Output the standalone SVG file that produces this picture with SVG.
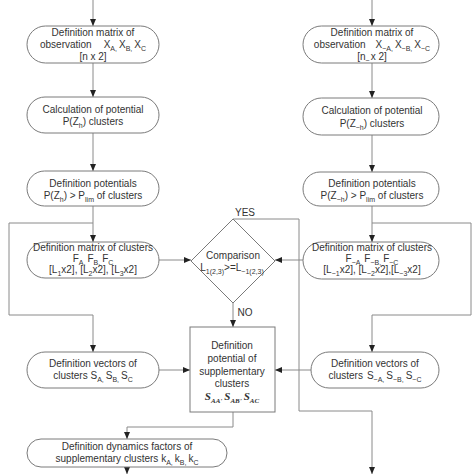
<svg xmlns="http://www.w3.org/2000/svg" width="474" height="474" viewBox="0 0 474 474">
<style>
.bg{fill:#ffffff}
.box{fill:#ffffff;stroke:#7a7a7a;stroke-width:1}
.ln{fill:none;stroke:#8a8a8a;stroke-width:1}
text{font-family:"Liberation Sans",Arial,sans-serif;font-size:10px;fill:#333333;text-anchor:middle}
.s{font-size:7px;baseline-shift:-2.5px}
.it{font-family:"Liberation Serif","Times New Roman",serif;font-style:italic;font-weight:bold;font-size:11px}
.its{font-family:"Liberation Serif","Times New Roman",serif;font-style:italic;font-weight:bold;font-size:7px;baseline-shift:-2.5px}
</style>
<defs>
<marker id="ar" markerUnits="userSpaceOnUse" markerWidth="8" markerHeight="8" viewBox="0 0 8 8" refX="7" refY="4" orient="auto">
<path d="M0,1 L7,4 L0,7 Z" fill="#222222"/>
</marker>
</defs>
<rect class="bg" x="0" y="0" width="474" height="474"/>
<g id="connectors">
<path class="ln" d="M93,0 V26" marker-end="url(#ar)"/>
<path class="ln" d="M372,0 V26" marker-end="url(#ar)"/>
<path class="ln" d="M93,63 V97" marker-end="url(#ar)"/>
<path class="ln" d="M372,63 V98" marker-end="url(#ar)"/>
<path class="ln" d="M93,133 V171" marker-end="url(#ar)"/>
<path class="ln" d="M372,135 V172" marker-end="url(#ar)"/>
<path class="ln" d="M93,206 V242" marker-end="url(#ar)"/>
<path class="ln" d="M372,206 V242" marker-end="url(#ar)"/>
<path class="ln" d="M93,223 H9 V315 H93 V352" marker-end="url(#ar)"/>
<path class="ln" d="M372,223 H471 V315 H372 V352" marker-end="url(#ar)"/>
<path class="ln" d="M159,260 H191" marker-end="url(#ar)"/>
<path class="ln" d="M303,260 H275" marker-end="url(#ar)"/>
<path class="ln" d="M233,219 H299 V411 H372 V474" marker-end="url(#ar)"/>
<path class="ln" d="M233,303 V327" marker-end="url(#ar)"/>
<path class="ln" d="M159,370 H190" marker-end="url(#ar)"/>
<path class="ln" d="M311,370 H275" marker-end="url(#ar)"/>
<path class="ln" d="M233,412 V427 H127 V439" marker-end="url(#ar)"/>
<path class="ln" d="M127,467 V474" marker-end="url(#ar)"/>
<text x="245" y="216">YES</text>
<text x="245" y="316">NO</text>
</g>
<g id="L1">
<rect class="box" x="27" y="26" width="132" height="37" rx="18.5"/>
<text x="93" y="36">Definition matrix of</text>
<text x="93" y="48">observation<tspan dx="12">X</tspan><tspan class="s">A,</tspan><tspan dx="2">X</tspan><tspan class="s">B,</tspan><tspan dx="2">X</tspan><tspan class="s">C</tspan></text>
<text x="93" y="60">[n x 2]</text>
</g>
<g id="R1">
<rect class="box" x="303" y="26" width="136" height="37" rx="18.5"/>
<text x="372" y="36">Definition matrix of</text>
<text x="372" y="48">observation<tspan dx="10">X</tspan><tspan class="s">~A,</tspan><tspan dx="2">X</tspan><tspan class="s">~B,</tspan><tspan dx="2">X</tspan><tspan class="s">~C</tspan></text>
<text x="372" y="60">[n<tspan class="s">~</tspan><tspan dx="1">x 2]</tspan></text>
</g>
<g id="L2">
<rect class="box" x="27" y="97" width="132" height="36" rx="18"/>
<text x="93" y="113">Calculation of potential</text>
<text x="93" y="125">P(Z<tspan class="s">h</tspan>) clusters</text>
</g>
<g id="R2">
<rect class="box" x="303" y="98" width="136" height="37" rx="18.5"/>
<text x="372" y="114">Calculation of potential</text>
<text x="372" y="127">P(Z<tspan class="s">~h</tspan>) clusters</text>
</g>
<g id="L3">
<rect class="box" x="27" y="171" width="132" height="35" rx="17.5"/>
<text x="93" y="187">Definition potentials</text>
<text x="93" y="199">P(Z<tspan class="s">h</tspan>) &gt; P<tspan class="s">lim</tspan> of clusters</text>
</g>
<g id="R3">
<rect class="box" x="303" y="172" width="136" height="34" rx="17"/>
<text x="372" y="187">Definition potentials</text>
<text x="372" y="199">P(Z<tspan class="s">~h</tspan>) &gt; P<tspan class="s">lim</tspan> of clusters</text>
</g>
<g id="L4">
<rect class="box" x="27" y="242" width="132" height="36" rx="18"/>
<text x="93" y="251">Definition matrix of clusters</text>
<text x="93" y="262">F<tspan class="s">A,</tspan><tspan dx="2">F</tspan><tspan class="s">B,</tspan><tspan dx="2">F</tspan><tspan class="s">C</tspan></text>
<text x="93" y="273">[L<tspan class="s">1</tspan>x2], [L<tspan class="s">2</tspan>x2], [L<tspan class="s">3</tspan>x2]</text>
</g>
<g id="R4">
<rect class="box" x="303" y="242" width="136" height="37" rx="18.5"/>
<text x="372" y="251">Definition matrix of clusters</text>
<text x="372" y="262">F<tspan class="s">~A,</tspan><tspan dx="2">F</tspan><tspan class="s">~B,</tspan><tspan dx="2">F</tspan><tspan class="s">~C</tspan></text>
<text x="372" y="273">[L<tspan class="s">~1</tspan>x2], [L<tspan class="s">~2</tspan>x2],[L<tspan class="s">~3</tspan>x2]</text>
</g>
<g id="diamond">
<path class="box" d="M233,219 L275,261 L233,303 L191,261 Z"/>
<text x="233" y="259">Comparison</text>
<text x="232" y="271">L<tspan class="s">1(2,3)</tspan>&gt;=L<tspan class="s">~1(2,3)</tspan></text>
</g>
<g id="center">
<rect class="box" x="190" y="327" width="85" height="85"/>
<text x="232" y="349">Definition</text>
<text x="232" y="362">potential of</text>
<text x="232" y="375">supplementary</text>
<text x="232" y="387">clusters</text>
<text x="232" y="400"><tspan class="it">S</tspan><tspan class="its">AA'</tspan><tspan class="it" dx="2">S</tspan><tspan class="its">AB'</tspan><tspan class="it" dx="2">S</tspan><tspan class="its">AC</tspan></text>
</g>
<g id="L5">
<rect class="box" x="27" y="352" width="132" height="36" rx="18"/>
<text x="93" y="367">Definition vectors of</text>
<text x="93" y="379">clusters S<tspan class="s">A,</tspan><tspan dx="2">S</tspan><tspan class="s">B,</tspan><tspan dx="2">S</tspan><tspan class="s">C</tspan></text>
</g>
<g id="R5">
<rect class="box" x="311" y="352" width="128" height="36" rx="18"/>
<text x="375" y="367">Definition vectors of</text>
<text x="375" y="379">clusters<tspan dx="4">S</tspan><tspan class="s">~A,</tspan><tspan dx="2">S</tspan><tspan class="s">~B,</tspan><tspan dx="2">S</tspan><tspan class="s">~C</tspan></text>
</g>
<g id="bottom">
<rect class="box" x="27" y="439" width="200" height="28" rx="14"/>
<text x="127" y="450">Definition dynamics factors of</text>
<text x="127" y="462">supplementary clusters k<tspan class="s">A,</tspan><tspan dx="2">k</tspan><tspan class="s">B,</tspan><tspan dx="2">k</tspan><tspan class="s">C</tspan></text>
</g>
</svg>
